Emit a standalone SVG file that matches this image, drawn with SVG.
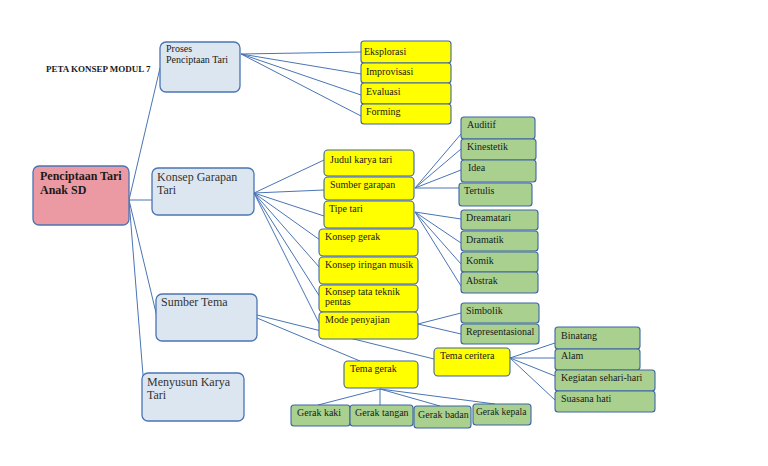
<svg xmlns="http://www.w3.org/2000/svg" width="768" height="466" viewBox="0 0 768 466">
<style>
text{font-family:"Liberation Serif","DejaVu Serif",serif;fill:#1a1a1a}
.b{fill:#dce6f1;stroke:#4a74b4;stroke-width:1.3}
.y{fill:#ffff00;stroke:#3d64a8;stroke-width:1.1}
.g{fill:#a9d08e;stroke:#3d64a8;stroke-width:1.1}
.c line{stroke:#4a74b4;stroke-width:1}
.s{font-size:10px}
.m{font-size:12px;fill:#333}
</style>
<rect width="768" height="466" fill="#fff"/>
<text x="46" y="72" font-size="9" font-weight="bold">PETA KONSEP MODUL 7</text>
<g class="c">
<line x1="129" y1="200" x2="160" y2="68"/><line x1="129" y1="200" x2="152" y2="200"/>
<line x1="129" y1="200" x2="157" y2="317"/><line x1="129" y1="200" x2="145" y2="400"/>
<line x1="241" y1="54" x2="361" y2="52"/><line x1="241" y1="54" x2="361" y2="74"/>
<line x1="241" y1="54" x2="361" y2="95"/><line x1="241" y1="54" x2="361" y2="116"/>
<line x1="254" y1="193" x2="324" y2="160"/><line x1="254" y1="193" x2="324" y2="190"/>
<line x1="254" y1="193" x2="324" y2="216"/><line x1="254" y1="193" x2="320" y2="240"/>
<line x1="254" y1="193" x2="320" y2="268"/><line x1="254" y1="193" x2="320" y2="297"/>
<line x1="254" y1="193" x2="320" y2="325"/>
<line x1="415" y1="188" x2="461" y2="134"/><line x1="415" y1="188" x2="461" y2="149"/>
<line x1="415" y1="188" x2="461" y2="170"/><line x1="415" y1="188" x2="459" y2="188"/>
<line x1="415" y1="212" x2="461" y2="219"/><line x1="415" y1="212" x2="461" y2="243"/>
<line x1="415" y1="212" x2="461" y2="264"/><line x1="415" y1="212" x2="461" y2="286"/>
<line x1="418" y1="324" x2="461" y2="313"/><line x1="418" y1="324" x2="461" y2="334"/>
<line x1="257" y1="318" x2="360" y2="361"/><line x1="257" y1="315" x2="434" y2="359"/>
<line x1="510" y1="358" x2="555" y2="343"/><line x1="510" y1="358" x2="555" y2="358"/>
<line x1="510" y1="358" x2="555" y2="376"/><line x1="510" y1="358" x2="555" y2="400"/>
<line x1="380" y1="389" x2="318" y2="405"/><line x1="380" y1="389" x2="380" y2="405"/>
<line x1="380" y1="389" x2="440" y2="406"/><line x1="380" y1="389" x2="495" y2="404"/>
</g>
<g id="root"><rect x="33" y="166" width="96" height="59" rx="6" fill="#eb9aa3" stroke="#4a74b4" stroke-width="1.3"/><text x="40" y="180" font-size="12" font-weight="bold">Penciptaan Tari</text><text x="40" y="194" font-size="12" font-weight="bold">Anak SD</text></g>
<g id="proses"><rect class="b" x="160" y="42" width="80" height="50" rx="6"/><text class="s" x="166" y="52" fill="#333">Proses</text><text class="s" x="166" y="63">Penciptaan Tari</text></g>
<g id="konsep"><rect class="b" x="152" y="168" width="102" height="47" rx="6"/><text class="m" x="157" y="181">Konsep Garapan</text><text class="m" x="157" y="194">Tari</text></g>
<g id="sumbertema"><rect class="b" x="156" y="294" width="101" height="47" rx="6"/><text class="m" x="161" y="306">Sumber Tema</text></g>
<g id="menyusun"><rect class="b" x="142" y="373" width="102" height="48" rx="6"/><text class="m" x="147" y="386">Menyusun Karya</text><text class="m" x="147" y="399">Tari</text></g>
<g id="eks"><rect class="y" x="361" y="41" width="90" height="22" rx="3"/><text class="s" x="364" y="55">Eksplorasi</text></g>
<g id="imp"><rect class="y" x="361" y="63" width="90" height="20" rx="3"/><text class="s" x="366" y="75">Improvisasi</text></g>
<g id="eva"><rect class="y" x="361" y="83" width="90" height="21" rx="3"/><text class="s" x="366" y="95">Evaluasi</text></g>
<g id="for"><rect class="y" x="361" y="104" width="90" height="20" rx="3"/><text class="s" x="366" y="115">Forming</text></g>
<g id="judul"><rect class="y" x="324" y="150" width="90" height="26" rx="4"/><text class="s" x="330" y="163">Judul karya tari</text></g>
<g id="sg"><rect class="y" x="324" y="177" width="90" height="23" rx="4"/><text class="s" x="330" y="188">Sumber garapan</text></g>
<g id="tipe"><rect class="y" x="324" y="201" width="90" height="27" rx="4"/><text class="s" x="329" y="212">Tipe tari</text></g>
<g id="kg"><rect class="y" x="319" y="229" width="99" height="27" rx="4"/><text class="s" x="325" y="240">Konsep gerak</text></g>
<g id="ki"><rect class="y" x="319" y="257" width="99" height="27" rx="4"/><text class="s" x="325" y="268">Konsep iringan musik</text></g>
<g id="kt"><rect class="y" x="319" y="285" width="99" height="27" rx="4"/><text class="s" x="325" y="295">Konsep tata teknik</text><text class="s" x="325" y="305">pentas</text></g>
<g id="mode"><rect class="y" x="319" y="312" width="99" height="27" rx="4"/><text class="s" x="325" y="323">Mode penyajian</text></g>
<g id="aud"><rect class="g" x="461" y="117" width="74" height="22" rx="3"/><text class="s" x="467" y="128">Auditif</text></g>
<g id="kin"><rect class="g" x="461" y="139" width="75" height="21" rx="3"/><text class="s" x="467" y="150">Kinestetik</text></g>
<g id="idea"><rect class="g" x="461" y="160" width="75" height="22" rx="3"/><text class="s" x="468" y="171">Idea</text></g>
<g id="tert"><rect class="g" x="459" y="183" width="73" height="23" rx="3"/><text class="s" x="464" y="194">Tertulis</text></g>
<g id="dre"><rect class="g" x="461" y="210" width="77" height="20" rx="3"/><text class="s" x="466" y="221">Dreamatari</text></g>
<g id="dra"><rect class="g" x="461" y="231" width="77" height="20" rx="3"/><text class="s" x="466" y="243">Dramatik</text></g>
<g id="kom"><rect class="g" x="461" y="252" width="77" height="20" rx="3"/><text class="s" x="466" y="264">Komik</text></g>
<g id="abs"><rect class="g" x="461" y="272" width="77" height="21" rx="3"/><text class="s" x="466" y="284">Abstrak</text></g>
<g id="sim"><rect class="g" x="461" y="303" width="78" height="20" rx="3"/><text class="s" x="466" y="314">Simbolik</text></g>
<g id="rep"><rect class="g" x="461" y="324" width="78" height="20" rx="3"/><text class="s" x="466" y="335">Representasional</text></g>
<g id="tc"><rect class="y" x="434" y="348" width="76" height="28" rx="4"/><text class="s" x="440" y="359">Tema ceritera</text></g>
<g id="tg"><rect class="y" x="344" y="361" width="74" height="27" rx="4"/><text class="s" x="350" y="372">Tema gerak</text></g>
<g id="bin"><rect class="g" x="555" y="327" width="85" height="22" rx="3"/><text class="s" x="561" y="339">Binatang</text></g>
<g id="alam"><rect class="g" x="555" y="349" width="85" height="21" rx="3"/><text class="s" x="561" y="359">Alam</text></g>
<g id="keg"><rect class="g" x="555" y="370" width="100" height="21" rx="3"/><text class="s" x="561" y="381">Kegiatan sehari-hari</text></g>
<g id="sua"><rect class="g" x="555" y="391" width="100" height="21" rx="3"/><text class="s" x="561" y="402">Suasana hati</text></g>
<g id="gk"><rect class="g" x="291" y="405" width="59" height="21" rx="3"/><text class="s" x="297" y="416">Gerak kaki</text></g>
<g id="gt"><rect class="g" x="350" y="405" width="63" height="21" rx="3"/><text class="s" x="355" y="416">Gerak tangan</text></g>
<g id="gb"><rect class="g" x="414" y="406" width="57" height="22" rx="3"/><text class="s" x="418" y="418" font-size="9.5">Gerak badan</text></g>
<g id="gkp"><rect class="g" x="473" y="404" width="58" height="21" rx="3"/><text x="476" y="415" font-size="9.5">Gerak kepala</text></g>
</svg>
